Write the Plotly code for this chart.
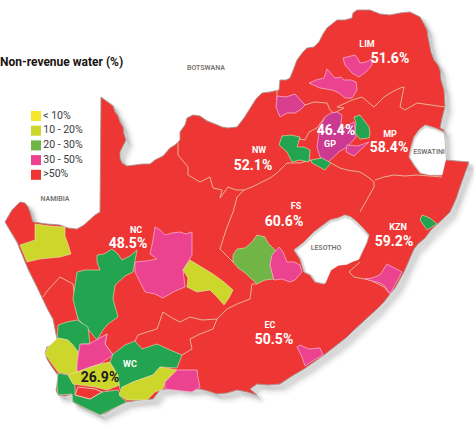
import plotly.graph_objects as go

# Map outlines, in the reference map's own coordinate plane (x right, y down)
SOUTH_AFRICA = [(101,97),(105,100),(108,103),(113,106),(115,112),(118,116),(120,122),(123,127),(124,134),(126,140),(123,146),(120,152),(120,158),(122,163),(127,166),(135,165),(143,164),(150,164),(155,160),(163,156),(170,148),(175,145),(180,140),(180,132),(185,125),(187,118),(193,115),(200,116),(207,121),(215,124),(222,127),(228,128),(237,127),(244,118),(250,108),(256,99),(262,93),(270,92),(279,90),(280,80),(286,80),(290,78),(294,68),(297,60),(303,52),(307,48),(314,47),(319,42),(323,34),(327,28),(332,24),(337,20),(345,20),(352,18),(353,13),(357,10),(370,10),(380,14),(390,15),(400,13),(410,12),(420,17),(424,24),(427,30),(428,37),(429,43),(431,52),(434,60),(438,65),(440,70),(441,80),(444,90),(445,100),(445,107),(442,118),(440,128),(444,130),(445,160),(469,162),(466,170),(464,177),(460,187),(456,199),(450,212),(444,218),(437,225),(431,230),(425,238),(418,244),(414,249),(410,258),(407,265),(404,272),(400,279),(395,288),(390,294),(384,302),(377,309),(368,317),(360,325),(353,331),(347,337),(336,346),(324,355),(314,362),(304,369),(292,376),(280,384),(268,385),(257,384),(250,389),(257,395),(247,392),(237,390),(227,393),(217,394),(208,391),(200,389),(187,390),(176,388),(167,389),(160,390),(153,399),(140,400),(127,402),(120,405),(113,409),(106,413),(100,415),(93,412),(87,409),(80,406),(73,402),(72,394),(65,396),(58,395),(56,390),(57,385),(58,375),(52,367),(47,359),(45,353),(47,347),(52,345),(57,339),(55,329),(53,319),(48,310),(43,299),(36,285),(28,269),(22,255),(17,242),(11,232),(5,222),(12,210),(20,202),(25,203),(28,207),(30,212),(33,222),(47,224),(60,225),(68,228),(77,229),(84,225),(90,219),(95,215),(100,212)]
ESWATINI = [(425,125),(435,128),(444,132),(445,145),(446,158),(442,175),(430,175),(420,173),(414,165),(409,157),(411,147),(414,137),(419,130)]
LESOTHO = [(294,250),(303,243),(314,232),(322,226),(330,220),(338,218),(345,215),(351,217),(357,222),(363,228),(369,235),(367,242),(364,248),(359,259),(353,261),(347,264),(338,265),(330,270),(327,277),(324,284),(315,282),(310,275),(304,272),(302,265),(300,259)]

LIM_A = [(343,58),(350,56),(355,55),(358,59),(360,63),(366,62),(372,59),(372,65),(366,72),(359,77),(352,73),(345,65)]
LIM_B = [(327,69),(332,74),(335,78),(341,77),(344,80),(351,80),(356,82),(357,90),(352,98),(345,98),(339,93),(332,90),(320,88),(309,83),(316,80),(324,78)]
NW_A = [(277,96),(286,97),(295,94),(300,100),(305,105),(300,110),(295,113),(287,113),(280,117),(276,107)]
NW_B = [(282,136),(291,135),(300,137),(297,147),(304,147),(310,150),(309,162),(300,160),(292,162),(287,152),(279,145)]
GP = [(325,117),(331,113),(337,112),(342,115),(340,130),(354,122),(356,137),(347,147),(340,151),(334,157),(327,163),(320,157),(317,147),(319,133),(322,123)]
MP_A = [(347,145),(358,146),(369,142),(360,150),(354,156),(346,152)]
MP_B = [(354,117),(360,115),(363,119),(365,122),(369,127),(370,133),(369,138),(360,139),(355,133),(356,123)]
FS_A = [(311,160),(322,158),(331,163),(325,170),(312,163)]
FS_B = [(237,249),(245,248),(252,242),(257,235),(265,237),(268,243),(277,252),(270,265),(274,279),(265,280),(257,284),(250,278),(244,272),(238,268),(233,262),(233,255)]
FS_C = [(279,247),(283,252),(287,262),(294,262),(300,265),(302,272),(295,280),(290,282),(282,279),(274,280),(270,265),(272,255)]
KZN_A = [(422,215),(430,218),(437,224),(427,230),(420,220)]
KZN_B = [(387,264),(402,272),(396,283),(390,294),(385,286),(380,283),(365,279),(372,278),(380,275)]
EC_A = [(297,347),(300,345),(309,349),(320,348),(323,355),(314,360),(305,366),(302,357)]
NC_A = [(20,245),(28,242),(35,240),(35,224),(50,226),(65,227),(65,236),(68,244),(71,254),(60,257),(40,259),(27,262)]
NC_B = [(97,255),(104,254),(112,249),(118,254),(122,260),(130,256),(137,250),(135,262),(133,272),(125,276),(115,285),(113,299),(118,317),(108,324),(103,330),(97,340),(88,329),(78,319),(73,299),(77,272),(85,270),(100,270),(97,262)]
NC_C = [(155,227),(160,230),(165,235),(172,233),(180,232),(186,234),(192,232),(192,245),(192,255),(183,270),(185,287),(175,291),(163,298),(155,294),(145,292),(140,282),(135,272),(135,262),(146,261),(157,259),(150,254),(153,240)]
NC_D = [(190,260),(200,266),(213,274),(224,282),(233,290),(229,298),(224,305),(217,297),(210,290),(197,292),(187,287),(188,278),(183,270)]
WC_A = [(58,325),(67,322),(77,320),(88,327),(90,344),(82,344),(78,352),(67,340),(57,338)]
WC_B = [(58,338),(68,340),(73,345),(78,352),(77,372),(72,375),(58,372),(52,364),(45,354),(48,347)]
WC_C = [(80,344),(89,344),(107,334),(105,344),(113,355),(100,364),(90,367),(77,372),(77,364)]
WC_D = [(58,373),(68,375),(75,385),(75,395),(90,399),(102,392),(118,390),(122,398),(127,402),(113,409),(100,415),(87,409),(73,402),(72,394),(58,395),(57,385)]
WC_E = [(77,372),(100,364),(110,362),(118,375),(120,385),(107,390),(95,387),(73,384),(68,375)]
WC_F = [(78,387),(95,389),(102,392),(90,399),(75,395)]
WC_G = [(110,362),(113,354),(125,345),(135,341),(142,349),(157,344),(170,350),(182,355),(177,368),(160,367),(153,375),(133,382),(120,390),(118,375)]
WC_H = [(160,367),(177,370),(165,382),(163,389),(155,392),(147,400),(127,400),(119,395),(122,387),(133,382),(153,375)]
WC_I = [(177,370),(197,370),(198,378),(200,387),(192,392),(165,389),(165,382)]

BORDER_NW_NC = [(178,142),(178,155),(188,167),(188,175),(200,182),(210,177),(213,188),(222,190),(220,198),(228,187),(236,190),(244,190),(252,187),(260,183),(270,178),(277,173),(287,163),(300,163),(311,160)]
BORDER_FS_NC = [(244,190),(237,197),(235,205),(233,212),(226,230),(220,249),(233,262)]
BORDER_FS_EC = [(257,284),(252,284),(250,299),(237,304),(227,309),(217,319),(213,329),(200,334),(190,339),(192,349),(182,355)]
BORDER_FS_MP = [(331,163),(340,168),(347,170),(360,172),(368,177),(374,182),(374,187),(367,200),(360,212)]
BORDER_MP_KZN = [(375,180),(384,177),(394,175),(405,176),(417,175),(430,176),(442,177)]
BORDER_EC_KZN = [(360,262),(349,272),(354,277),(370,280),(384,287),(390,294)]
BORDER_LIM = [(277,90),(277,107),(305,105),(314,102),(327,103),(330,110),(334,113),(344,108),(337,107),(352,100),(362,97),(368,102),(374,107),(384,97),(392,92),(400,88),(404,87),(400,107),(405,110),(417,103),(430,105),(445,107)]
BORDER_GP = [(282,136),(305,140),(309,132),(317,128),(325,117)]
BORDER_NC_WC_W = [(43,297),(48,290),(60,277),(73,284),(78,319)]
BORDER_NC_WC_E = [(135,341),(138,335),(147,332),(157,329),(163,312),(172,318),(180,322),(190,317),(202,320),(213,319),(217,319)]
BORDER_NC_WC_M = [(97,340),(107,334),(105,344),(113,355)]

LEGEND_LABELS = ["< 10%", "10 - 20%", "20 - 30%", "30 - 50%", ">50%"]
LEGEND_COLORS = ["#f6e52e", "#cdd62b", "#6db544", "#ec4391", "#ee3735"]

PROVINCE_NAMES = ["LIM", "NW", "MP", "GP", "FS", "NC", "KZN", "EC", "WC"]
PROVINCE_X = [367, 259, 390, 330, 296, 136, 398, 270, 130]
PROVINCE_Y = [45, 151, 135, 145, 207, 231, 228, 326, 365]
PCT_LABELS = ["51.6%", "52.1%", "58.4%", "46.4%", "60.6%", "48.5%", "59.2%", "50.5%", "26.9%"]
PCT_X = [390, 253, 389, 336, 284, 128, 394, 274, 100]
PCT_Y = [59, 166, 148, 131, 222, 244, 242, 340, 378]
PCT_COLORS = ["white"] * 8 + ["#1a1a1a"]

COUNTRY_NAMES = ["BOTSWANA", "NAMIBIA", "ESWATINI", "LESOTHO"]
COUNTRY_X = [206, 55, 429, 326]
COUNTRY_Y = [68, 199, 152, 248]

RED, PINK, MAGENTA, GREEN, LIME, YELLOW = "#ee3735", "#ec4391", "#cb3a90", "#23a450", "#cdd62b", "#70b545"
FILLS = [
    (LIM_A, PINK), (LIM_B, PINK), (NW_A, "#d8408f"), (NW_B, GREEN), (GP, MAGENTA), (MP_A, "#dc3f90"), (MP_B, GREEN),
    (FS_A, GREEN), (FS_B, YELLOW), (FS_C, PINK), (KZN_A, GREEN), (KZN_B, PINK), (EC_A, PINK),
    (NC_A, LIME), (NC_B, GREEN), (NC_C, PINK), (NC_D, LIME),
    (WC_A, GREEN), (WC_B, LIME), (WC_C, PINK), (WC_D, GREEN), (WC_E, LIME), (WC_F, RED), (WC_G, GREEN), (WC_H, LIME), (WC_I, PINK),
]
BORDERS = [BORDER_NW_NC, BORDER_FS_NC, BORDER_FS_EC, BORDER_FS_MP, BORDER_MP_KZN, BORDER_EC_KZN, BORDER_LIM, BORDER_GP, BORDER_NC_WC_W, BORDER_NC_WC_E, BORDER_NC_WC_M]


def xs(poly, d=0):
    return [p[0] + d for p in poly] + [poly[0][0] + d]


def ys(poly, d=0):
    return [p[1] + d for p in poly] + [poly[0][1] + d]


def inset(poly, factor, dx, dy):
    cx = sum(p[0] for p in poly) / len(poly)
    cy = sum(p[1] for p in poly) / len(poly)
    return [(cx + (p[0] - cx) * factor + dx, cy + (p[1] - cy) * factor + dy) for p in poly]


fig = go.Figure()

# Soft drop shadow under the country
for d, w in [(7, 7), (6, 6), (5, 5), (4, 4), (3, 3), (2, 2)]:
    fig.add_trace(go.Scatter(x=xs(SOUTH_AFRICA, d), y=ys(SOUTH_AFRICA, d), mode="lines", fill="toself",
                             fillcolor="rgba(60,60,60,0.03)", line=dict(color="rgba(60,60,60,0.025)", width=w),
                             hoverinfo="skip", showlegend=False))

fig.add_trace(go.Scatter(x=xs(SOUTH_AFRICA), y=ys(SOUTH_AFRICA), mode="lines", fill="toself", fillcolor=RED,
                         line=dict(color="#a8928a", width=0.9), hoverinfo="skip", showlegend=False))

for poly in BORDERS:
    fig.add_trace(go.Scatter(x=[p[0] for p in poly], y=[p[1] for p in poly], mode="lines",
                             line=dict(color="#e6bda0", width=0.9), hoverinfo="skip", showlegend=False))

for poly, color in FILLS:
    edge = "#f7a8cb" if color in (PINK, MAGENTA, "#d8408f", "#dc3f90") else ("#f3d9c8" if color == RED else "rgba(235,235,190,0.7)")
    fig.add_trace(go.Scatter(x=xs(poly), y=ys(poly), mode="lines", fill="toself", fillcolor=color,
                             line=dict(color=edge, width=0.8), hoverinfo="skip", showlegend=False))

# Neighbouring countries inside the map, with the map's shadow falling on them
for poly in (ESWATINI, LESOTHO):
    fig.add_trace(go.Scatter(x=xs(poly), y=ys(poly), mode="lines", fill="toself", fillcolor="#dddbd9",
                             line=dict(color="#b9b4b0", width=1), hoverinfo="skip", showlegend=False))
    inner = inset(poly, 0.94, 0.8, 1.2)
    fig.add_trace(go.Scatter(x=xs(inner), y=ys(inner), mode="lines", fill="toself", fillcolor="white",
                             line=dict(color="white", width=0.5), hoverinfo="skip", showlegend=False))

FONT = "Roboto, sans-serif"

# Colour key
for i, (label, color) in enumerate(zip(LEGEND_LABELS, LEGEND_COLORS)):
    fig.add_trace(go.Scatter(x=[36], y=[116 + i * 14.7], mode="markers+text", name=label, text=[label],
                             textposition="middle right", hoverinfo="skip", showlegend=False,
                             textfont=dict(family=FONT, size=10.5, color="#3a3a3a"),
                             marker=dict(symbol="square", size=10, color=color)))

fig.add_trace(go.Scatter(x=COUNTRY_X, y=COUNTRY_Y, mode="text", text=COUNTRY_NAMES, hoverinfo="skip", showlegend=False,
                         textfont=dict(family=FONT, size=7, color="#77736f", weight=600)))
fig.add_trace(go.Scatter(x=PROVINCE_X, y=PROVINCE_Y, mode="text", text=PROVINCE_NAMES, hoverinfo="skip", showlegend=False,
                         textfont=dict(family=FONT, size=9, color="white", weight=700)))
fig.add_trace(go.Scatter(x=PCT_X, y=PCT_Y, mode="text", text=PCT_LABELS, hoverinfo="skip", showlegend=False,
                         textfont=dict(family=FONT, size=14, color=PCT_COLORS, weight=700)))

fig.update_layout(
    width=474, height=425, margin=dict(l=0, r=0, t=0, b=0),
    paper_bgcolor="white", plot_bgcolor="white", showlegend=False,
    font=dict(family=FONT, color="#333333"),
    title=dict(text="Non-revenue water (%)", x=0, xanchor="left", xref="paper", y=1 - 62 / 425, yanchor="middle", yref="paper",
               font=dict(family=FONT, size=12, color="#1a1410", weight=700), pad=dict(l=0, r=0, t=0, b=0)),
    xaxis=dict(range=[0, 474], visible=False, fixedrange=True),
    yaxis=dict(range=[425, 0], visible=False, fixedrange=True),
)

fig.write_html("out.html", config={"displayModeBar": False},
               post_script="document.body.style.margin='0';document.documentElement.style.overflow='hidden';")
